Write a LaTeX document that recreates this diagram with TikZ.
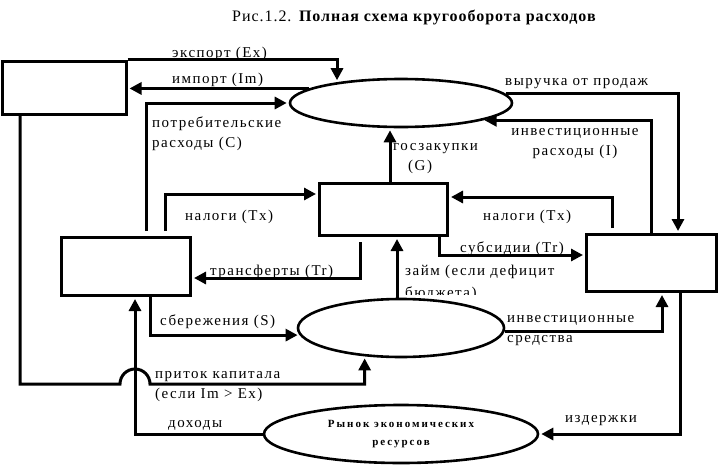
\documentclass[tikz,border=0pt]{standalone}
\usepackage{fontspec}
\setmainfont{Liberation Serif}
\newfontfamily\titlefont[LetterSpace=6]{Liberation Serif}
\newfontfamily\labelfont[LetterSpace=10]{Liberation Serif}
\newfontfamily\marketfont[LetterSpace=18]{Liberation Serif}
\usetikzlibrary{arrows.meta,shapes.geometric}

\tikzset{
  box/.style={draw, line width=3pt, inner sep=0pt},
  market/.style={draw, ellipse, line width=2.6pt, fill=white, inner sep=0pt},
  flow/.style={line width=3pt, -{Triangle[length=12pt,width=12pt]}, shorten >=2pt},
  gap/.style={shorten <=5pt},
  lbl/.style={inner sep=0pt, font=\labelfont\fontsize{15}{20}\selectfont, align=left},
}

\begin{document}
\begin{tikzpicture}[x=1pt, y=-1pt]
  \useasboundingbox (0,0) rectangle (720,466);
  % title
  \node[inner sep=0pt, anchor=base west, font=\titlefont\fontsize{16}{18}\selectfont] (title) at (232,21)
    {Рис.1.2. \textbf{Полная схема кругооборота расходов}};
  % sectors
  \node[box, minimum width=124pt, minimum height=53pt] (abroad) at (64,87.5) {};
  \node[box, minimum width=129pt, minimum height=58pt] (households) at (126,266.5) {};
  \node[box, minimum width=128pt, minimum height=52pt] (government) at (383.5,209.5) {};
  \node[box, minimum width=130pt, minimum height=57pt] (firms) at (651.5,263) {};
  % markets
  \node[market, minimum width=222pt, minimum height=48pt] (goods) at (401,103) {};
  \node[market, minimum width=206pt, minimum height=58pt] (capital) at (401,328) {};
  \node[market, minimum width=274pt, minimum height=58pt, align=center,
    font=\marketfont\bfseries\fontsize{11}{18}\selectfont] (resources) at (401,434) {Рынок экономических\\ресурсов};
  % goods market
  \draw[flow] (abroad.north east) -| (goods.162);
  \draw[flow] (goods.171) -- (goods.171 -| abroad.east);
  \draw[flow, gap] ([xshift=20pt]households.north) |- (goods.west);
  \draw[flow] (goods.5) -| ([xshift=26.5pt]firms.north);
  \draw[flow] (firms.north) |- (goods.-12);
  \draw[flow] ([xshift=6.5pt]government.north) -- ([xshift=6.5pt]government.north |- goods.south);
  % government
  \draw[flow, gap] ([xshift=39pt]households.north) |- ([yshift=15.5pt]government.west);
  \draw[flow, gap] ([xshift=-39.5pt]firms.north) |- ([yshift=12.5pt]government.east);
  \draw[flow, gap] ([xshift=-23.5pt]government.south) |- ([yshift=-11.5pt]households.east);
  \draw[flow] ([xshift=55.5pt]government.south) |- ([yshift=8pt]firms.west);
  \draw[flow] ([xshift=-4pt]capital.north) -- ([xshift=-4pt]capital.north |- government.south);
  % capital market
  \draw[flow] ([xshift=24pt]households.south) |- (capital.184);
  \draw[flow] (capital.-2) -| ([xshift=10.5pt]firms.south);
  \coordinate (hop) at (135,384);
  \draw[flow] ([xshift=-44pt]abroad.south) |- ([xshift=-15pt]hop)
    arc[start angle=180, end angle=0, radius=15pt] -- (hop -| capital.218) -- (capital.218);
  % resource market
  \draw[flow] (resources.west) -| ([xshift=9pt]households.south);
  \draw[flow] ([xshift=28.5pt]firms.south) |- (resources.east);
  % labels
  \node[lbl, anchor=base west] (lexport) at (172,57) {экспорт (Ex)};
  \node[lbl, anchor=base west] (limport) at (172,83) {импорт (Im)};
  \node[lbl, anchor=base west] (lcons) at (152,147) {потребительские\\расходы (C)};
  \node[lbl, anchor=base west] (ltaxh) at (185,220) {налоги (Tx)};
  \node[lbl, anchor=base west] (lgov) at (393,170) {госзакупки\\\hspace*{15pt}(G)};
  \node[lbl, anchor=base west] (lrev) at (505,85) {выручка от продаж};
  \node[lbl, anchor=base, align=center] (linv) at (575,155) {инвестиционные\\расходы (I)};
  \node[lbl, anchor=base west] (ltaxf) at (483,220) {налоги (Tx)};
  \node[lbl, anchor=base west] (lsub) at (460,252) {субсидии (Tr)};
  \node[lbl, anchor=base west] (ltrans) at (210,275) {трансферты (Tr)};
  % the second line is cut off at its frame
  \begin{scope}
    \clip (400,255) rectangle (570,294);
    \node[lbl, anchor=base west] (lloan) at (405,297) {займ (если дефицит\\[2pt]бюджета)};
  \end{scope}
  \node[lbl, anchor=base west] (lsave) at (160,325) {сбережения (S)};
  \node[lbl, anchor=base west] (lfunds) at (507,342) {инвестиционные\\средства};
  \node[lbl, anchor=base west] (linflow) at (155,398) {приток капитала\\(если Im > Ex)};
  \node[lbl, anchor=base west] (lincome) at (168,427) {доходы};
  \node[lbl, anchor=base west] (lcost) at (565,422) {издержки};
\end{tikzpicture}
\end{document}
